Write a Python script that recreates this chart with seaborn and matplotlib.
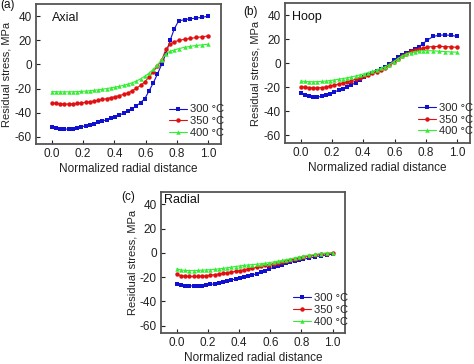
import numpy as np
import pandas as pd
import matplotlib
matplotlib.use("Agg")
import matplotlib.pyplot as plt
import seaborn as sns

x = [0.000, 0.027, 0.054, 0.081, 0.108, 0.135, 0.162, 0.189, 0.216, 0.243,
     0.270, 0.297, 0.324, 0.351, 0.378, 0.405, 0.432, 0.459, 0.486, 0.513,
     0.540, 0.567, 0.594, 0.621, 0.648, 0.675, 0.702, 0.729, 0.756, 0.783,
     0.810, 0.848, 0.886, 0.924, 0.962, 1.000]

temps = ["300 °C", "350 °C", "400 °C"]

axial_300 = [-52.0, -52.6, -53.1, -53.5, -53.6, -53.3, -52.6, -51.7, -50.8, -49.9,
             -49.0, -48.0, -46.9, -45.8, -44.6, -43.3, -41.9, -40.4, -38.7, -36.7,
             -34.4, -31.6, -28.5, -22.0, -15.5, -8.0, 0.0, 9.0, 20.0, 29.5,
             36.0, 37.0, 37.8, 38.4, 39.0, 40.0]
axial_350 = [-31.7, -32.2, -32.6, -32.8, -32.8, -32.6, -32.3, -31.9, -31.4, -30.9,
             -30.3, -29.7, -29.0, -28.3, -27.5, -26.7, -25.8, -24.8, -23.6, -21.8,
             -19.8, -17.4, -14.5, -10.5, -6.0, -1.5, 3.5, 12.5, 16.8, 18.8,
             19.8, 20.8, 21.5, 22.3, 22.9, 23.6]
axial_400 = [-22.5, -22.6, -22.7, -22.7, -22.7, -22.6, -22.5, -22.3, -22.1, -21.8,
             -21.4, -21.0, -20.5, -20.0, -19.4, -18.8, -18.1, -17.3, -16.3, -15.2,
             -13.8, -12.0, -9.8, -7.3, -4.2, -0.5, 4.0, 9.0, 11.0, 12.0,
             13.0, 14.2, 15.0, 15.7, 16.2, 16.8]

hoop_300 = [-24.8, -26.3, -27.5, -28.0, -28.0, -27.5, -26.6, -25.2, -23.8, -22.4,
            -21.0, -19.5, -18.0, -16.2, -14.0, -11.5, -9.8, -8.2, -6.5, -4.8,
            -2.8, -0.5, 2.5, 5.0, 7.2, 9.0, 10.5, 11.8, 13.8, 16.5,
            19.5, 22.4, 23.5, 23.6, 23.3, 22.4]
hoop_350 = [-19.3, -19.8, -20.2, -20.4, -20.4, -20.1, -19.6, -18.9, -18.1, -17.2,
            -16.3, -15.3, -14.3, -13.2, -12.0, -10.7, -9.5, -8.2, -6.8, -5.3,
            -3.6, -1.6, 0.8, 3.5, 6.0, 8.2, 10.0, 11.2, 12.0, 12.8,
            13.6, 14.0, 14.1, 14.0, 13.7, 13.3]
hoop_400 = [-14.7, -15.0, -15.2, -15.3, -15.2, -15.0, -14.7, -14.3, -13.8, -13.2,
            -12.6, -12.0, -11.3, -10.5, -9.6, -8.6, -7.6, -6.6, -5.4, -4.2,
            -2.8, -1.0, 1.5, 4.0, 6.2, 7.8, 9.0, 9.8, 10.3, 10.6,
            10.6, 10.4, 10.1, 9.8, 9.5, 9.3]

radial_300 = [-25.6, -26.5, -26.9, -27.1, -27.2, -27.1, -26.9, -26.5, -26.0, -25.4,
              -24.5, -23.6, -22.8, -22.2, -21.6, -20.9, -20.1, -19.2, -18.2, -17.1,
              -15.9, -14.5, -13.2, -12.0, -11.0, -9.7, -8.6, -7.7, -6.8, -6.0,
              -5.2, -4.3, -3.3, -2.4, -1.7, -1.0]
radial_350 = [-17.7, -18.7, -19.2, -19.4, -19.4, -19.3, -19.1, -18.8, -18.4, -17.9,
              -17.4, -16.9, -16.3, -15.7, -15.2, -14.6, -14.0, -13.3, -12.6, -11.8,
              -11.0, -10.3, -9.6, -8.9, -8.2, -7.5, -6.8, -6.0, -5.2, -4.5,
              -3.7, -2.8, -1.9, -1.1, -0.5, 0.0]
radial_400 = [-13.1, -14.0, -14.4, -14.5, -14.5, -14.4, -14.2, -14.0, -13.8, -13.5,
              -13.1, -12.7, -12.2, -11.7, -11.2, -10.7, -10.3, -9.9, -9.6, -9.3,
              -8.9, -8.5, -8.0, -7.4, -6.8, -6.2, -5.5, -4.8, -4.1, -3.4,
              -2.7, -1.9, -1.2, -0.5, 0.0, 0.0]

panel_labels = ["(a)", "(b)", "(c)"]
panel_names = ["Axial", "Hoop", "Radial"]
panel_series = [[axial_300, axial_350, axial_400],
                [hoop_300, hoop_350, hoop_400],
                [radial_300, radial_350, radial_400]]

xticks = [0.0, 0.2, 0.4, 0.6, 0.8, 1.0]
yticks = [-60, -40, -20, 0, 20, 40]

sns.set_theme(style="white")
plt.rcParams['font.family'] = ['Liberation Sans', 'DejaVu Sans']

palette = {"300 °C": "#1010d0", "350 °C": "#e01010", "400 °C": "#33ee33"}
markers = {"300 °C": "s", "350 °C": "o", "400 °C": "^"}

fig = plt.figure(figsize=(4.74, 3.64), dpi=100)
rects = [
    [0.076, 0.604, 0.390, 0.385],
    [0.601, 0.608, 0.390, 0.383],
    [0.340, 0.085, 0.388, 0.387],
]
name_pos = [(0.085, 0.90), (0.04, 0.90), (0.015, 0.945)]
label_pos = [(0.0, 0.985), (0.513, 0.967), (0.256, 0.459)]

for lab, name, series, rect, npos, lpos in zip(panel_labels, panel_names, panel_series,
                                               rects, name_pos, label_pos):
    ax = fig.add_axes(rect)
    rows = []
    for t, vals in zip(temps, series):
        for xi, v in zip(x, vals):
            rows.append({"x": xi, "y": v, "T": t})
    df = pd.DataFrame(rows)
    sns.lineplot(data=df, x="x", y="y", hue="T", style="T", palette=palette,
                 markers=markers, dashes=False, linewidth=0.8, markersize=3.2,
                 markeredgewidth=0, ax=ax, sort=False)
    ax.set_xlim(-0.1, 1.08)
    ax.set_ylim(-66, 50)
    ax.set_xticks(xticks)
    ax.set_xticklabels([f"{v:.1f}" for v in xticks])
    ax.set_yticks(yticks)
    ax.set_yticklabels([str(v) for v in yticks])
    ax.tick_params(direction="in", length=3, width=0.8, labelsize=8.5, pad=3,
                   colors="#222222", bottom=True, left=True)
    ax.set_xlabel("Normalized radial distance", fontsize=8.5, color="#222222", labelpad=2)
    ax.set_ylabel("Residual stress, MPa", fontsize=8, color="#222222", labelpad=2)
    for s in ax.spines.values():
        s.set_color("#555555")
        s.set_linewidth(1.3)
    ax.text(npos[0], npos[1], name, transform=ax.transAxes, fontsize=9,
            ha="left", va="center", color="#111111")
    fig.text(lpos[0], lpos[1], lab, fontsize=8.5, ha="left", va="center",
             color="#111111")
    h, l = ax.get_legend_handles_labels()
    ax.legend(h, l, loc="lower right", frameon=False, fontsize=8,
              handlelength=1.6, handletextpad=0.3, labelspacing=0.15,
              borderaxespad=0.3, bbox_to_anchor=(1.06, -0.01))

fig.savefig("out.png", dpi=100)
